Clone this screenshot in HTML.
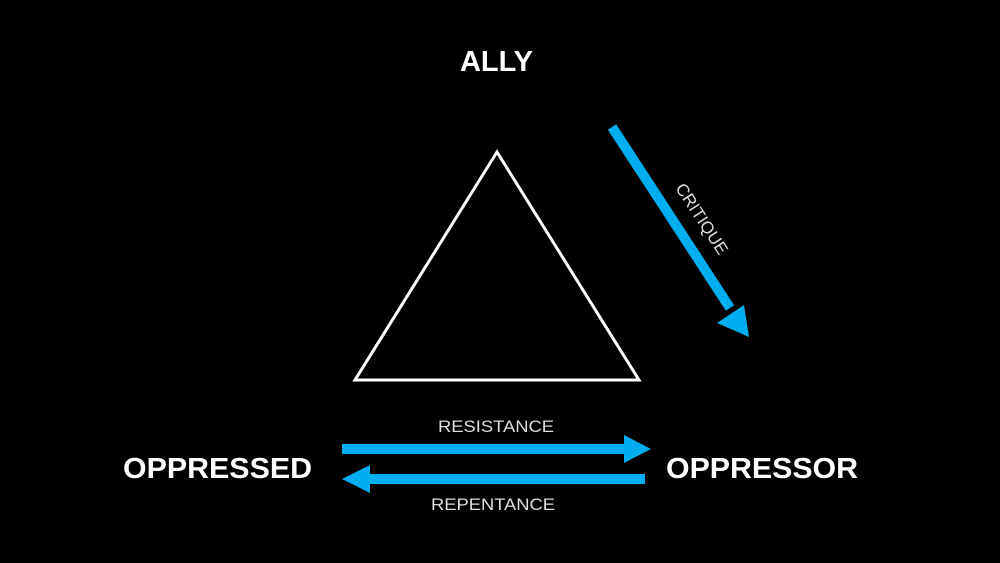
<!DOCTYPE html>
<html><head><style>
html,body{margin:0;padding:0;background:#000;}
svg{display:block;}
</style></head><body>
<svg width="1000" height="563" viewBox="0 0 1000 563" xmlns="http://www.w3.org/2000/svg">
<rect width="1000" height="563" fill="#000"/>
<g font-family="Liberation Sans, sans-serif" fill="#fff">
<text x="460" y="71" font-size="29" font-weight="bold" textLength="73" lengthAdjust="spacingAndGlyphs">ALLY</text>
<text x="123" y="478" font-size="29" font-weight="bold" textLength="189" lengthAdjust="spacingAndGlyphs">OPPRESSED</text>
<text x="666" y="478" font-size="29" font-weight="bold" textLength="192" lengthAdjust="spacingAndGlyphs">OPPRESSOR</text>
<text x="438" y="432" font-size="17" fill="#ddd" textLength="116" lengthAdjust="spacingAndGlyphs">RESISTANCE</text>
<text x="431" y="510" font-size="17" fill="#ddd" textLength="124" lengthAdjust="spacingAndGlyphs">REPENTANCE</text>
<text x="0" y="0" font-size="17" fill="#ddd" text-anchor="middle" transform="translate(697,222) rotate(57)">CRITIQUE</text>
</g>
<polygon points="497,152 355,380 639,380" fill="none" stroke="#fff" stroke-width="3"/>
<g fill="#00aeef">
<rect x="342" y="444" width="285" height="10"/>
<polygon points="624,435 651,449 624,463"/>
<rect x="368" y="474" width="277" height="10"/>
<polygon points="370,465 342,479 370,493"/>
<line x1="612" y1="127" x2="730" y2="308" stroke="#00aeef" stroke-width="10"/>
<polygon points="749,337 717,323 744,305"/>
</g>
</svg>
</body></html>
